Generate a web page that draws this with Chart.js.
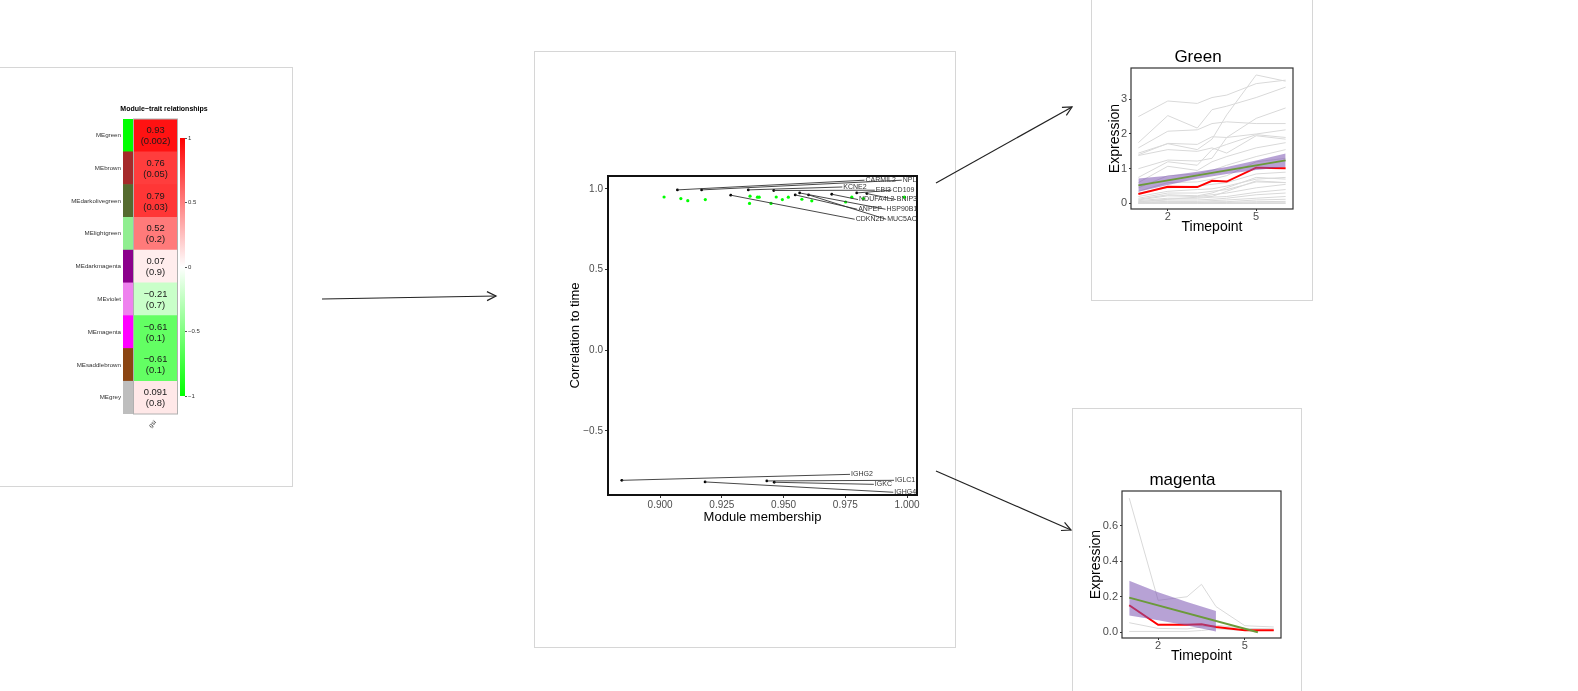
<!DOCTYPE html>
<html>
<head>
<meta charset="utf-8">
<script src="https://cdn.jsdelivr.net/npm/chart.js@4/dist/chart.umd.min.js"></script>
<style>
  html, body { margin: 0; padding: 0; background: #fff; }
  #page { position: relative; width: 1578px; height: 691px; overflow: hidden; }
  .panel { position: absolute; border: 1px solid #d6d6d6; background: #fff; }
  canvas { position: absolute; }
  svg { position: absolute; left: 0; top: 0; }
</style>
</head>
<body>
<div id="page">
  <div class="panel" style="left:-2px;top:67px;width:293px;height:418px"></div>
  <div class="panel" style="left:534px;top:51px;width:420px;height:595px"></div>
  <div class="panel" style="left:1091px;top:-2px;width:220px;height:301px"></div>
  <div class="panel" style="left:1072px;top:408px;width:228px;height:290px"></div>

  <canvas id="heat" width="328" height="350" style="left:0;top:90px"></canvas>
  <canvas id="bar" width="30" height="278" style="left:180px;top:128px"></canvas>
  <canvas id="mm" width="363" height="369" style="left:564px;top:160px"></canvas>
  <canvas id="green" width="196" height="196" style="left:1103px;top:40px"></canvas>
  <canvas id="magenta" width="203" height="201" style="left:1084px;top:464px"></canvas>

  <svg width="1578" height="691">
    <defs>
      <marker id="ah" markerWidth="12" markerHeight="12" refX="10" refY="6" orient="auto" markerUnits="userSpaceOnUse">
        <path d="M1,1.5 L10,6 L1,10.5" fill="none" stroke="#222" stroke-width="1.2"/>
      </marker>
    </defs>
    <g stroke="#222" stroke-width="1.2" fill="none">
      <line x1="322" y1="299" x2="496" y2="296" marker-end="url(#ah)"/>
      <line x1="936" y1="183" x2="1072" y2="107" marker-end="url(#ah)"/>
      <line x1="936" y1="471" x2="1071" y2="530" marker-end="url(#ah)"/>
    </g>
  </svg>
</div>
<script>
var FONT = '"Liberation Sans", Arial, sans-serif';

// ---- module-trait heatmap
var heatTitle = 'Module\u2212trait relationships';
var modules = ['MEgreen', 'MEbrown', 'MEdarkolivegreen', 'MElightgreen', 'MEdarkmagenta',
               'MEviolet', 'MEmagenta', 'MEsaddlebrown', 'MEgrey'];
var moduleColors = ['#00ff00', '#a52a2a', '#556b2f', '#90ee90', '#8b008b',
                    '#ee82ee', '#ff00ff', '#8b4513', '#bebebe'];
var corrValues = [0.93, 0.76, 0.79, 0.52, 0.07, -0.21, -0.61, -0.61, 0.091];
var pValues = ['0.002', '0.05', '0.03', '0.2', '0.9', '0.7', '0.1', '0.1', '0.8'];
var traitName = 'gsi';
var barTicks = [-1, -0.5, 0, 0.5, 1];

// ---- module membership vs correlation to time
var geneNames = ['CARMIL2', 'NPL', 'KCNE2', 'EBI3', 'CD109', 'NDUFA4L2', 'BNIP3', 'ANPEP',
                 'HSP90B1', 'CDKN2D', 'MUC5AC', 'IGHG2', 'IGLC1', 'IGKC', 'IGHG4'];
var geneMM  = [0.9070, 0.9168, 0.9357, 0.9460, 0.9796, 0.9695, 0.9837, 0.9547,
               0.9565, 0.9286, 0.9601, 0.8845, 0.9432, 0.9462, 0.9182];
var geneCor = [0.994, 0.994, 0.994, 0.990, 0.975, 0.967, 0.971, 0.963,
               0.975, 0.961, 0.963, -0.806, -0.810, -0.818, -0.816];
var labelMM  = [0.9893, 1.0010, 0.9789, 0.9904, 0.9985, 0.9877, 0.9999, 0.9850,
                0.9979, 0.9850, 0.9979, 0.9817, 0.9992, 0.9904, 0.9992];
var labelCor = [1.054, 1.054, 1.012, 0.992, 0.992, 0.934, 0.934, 0.874,
                0.874, 0.812, 0.812, -0.769, -0.806, -0.831, -0.880];
var otherMM  = [0.9016, 0.9084, 0.9112, 0.9183, 0.9364, 0.9362, 0.9394, 0.9401, 0.9449,
                0.9470, 0.9495, 0.9519, 0.9574, 0.9614, 0.9751, 0.9776, 0.9823, 0.9989];
var otherCor = [0.950, 0.940, 0.927, 0.934, 0.955, 0.910, 0.949, 0.949, 0.910,
                0.950, 0.934, 0.949, 0.936, 0.926, 0.919, 0.949, 0.940, 0.949];

// ---- expression over time
var timepoints = [1, 2, 3, 3.5, 4, 5, 6];
var timeTicks = [2, 5];
var greenGrey = [
  [2.50, 2.95, 2.88, 3.05, 3.12, 3.45, 3.55],
  [1.75, 2.53, 2.17, 2.70, 2.80, 3.05, 3.35],
  [1.45, 1.72, 1.55, 1.85, 2.55, 3.70, 3.52],
  [1.60, 2.08, 2.12, 2.30, 2.35, 2.30, 2.30],
  [1.40, 1.73, 1.70, 1.92, 1.90, 2.00, 2.12],
  [1.00, 1.25, 1.22, 1.30, 1.90, 2.45, 2.75],
  [1.38, 1.55, 1.50, 1.60, 1.45, 1.95, 1.85],
  [0.75, 1.20, 1.10, 1.55, 1.70, 1.98, 1.90],
  [0.60, 1.07, 0.95, 1.20, 1.35, 1.60, 1.75],
  [0.45, 0.80, 0.85, 0.95, 1.10, 1.35, 1.55],
  [0.35, 0.60, 0.62, 0.70, 0.80, 1.20, 1.30],
  [0.30, 0.45, 0.50, 0.55, 0.60, 0.85, 0.90],
  [0.20, 0.35, 0.40, 0.42, 0.50, 0.70, 0.75],
  [0.15, 0.30, 0.30, 0.35, 0.40, 0.62, 0.60],
  [0.10, 0.22, 0.20, 0.25, 0.30, 0.45, 0.55],
  [0.08, 0.15, 0.15, 0.18, 0.20, 0.32, 0.40],
  [0.05, 0.10, 0.10, 0.12, 0.15, 0.25, 0.30],
  [0.03, 0.06, 0.06, 0.08, 0.10, 0.15, 0.20],
  [0.02, 0.04, 0.03, 0.05, 0.05, 0.10, 0.12],
  [0.01, 0.02, 0.02, 0.02, 0.03, 0.05, 0.06],
  [0.00, 0.01, 0.01, 0.01, 0.01, 0.02, 0.02],
  [0.05, 0.12, 0.18, 0.20, 0.35, 0.65, 0.60],
  [0.12, 0.25, 0.22, 0.30, 0.45, 0.75, 0.70],
  [0.00, 0.00, 0.00, 0.00, 0.00, 0.00, 0.00]
];
var greenRed = [0.27, 0.48, 0.47, 0.65, 0.63, 1.03, 1.01];
var greenBandX = [1, 2, 3, 4, 5, 6];
var greenBandLo = [0.34, 0.53, 0.71, 0.85, 0.96, 1.05];
var greenBandHi = [0.72, 0.80, 0.91, 1.05, 1.24, 1.44];
var greenFitX = [1, 6];
var greenFitY = [0.52, 1.24];

var magentaGrey = [
  [0.755, 0.18, 0.20, 0.27, 0.145, 0.037, 0.03],
  [0.054, 0.022, 0.019, 0.03, 0.04, 0.022, 0.02],
  [0.005, 0.005, 0.005, 0.01, 0.02, 0.01, 0.01]
];
var magentaRed = [0.152, 0.042, 0.043, 0.045, 0.03, 0.012, 0.012];
var magentaBandX = [1, 2, 3, 4];
var magentaBandLo = [0.095, 0.068, 0.038, 0.005];
var magentaBandHi = [0.29, 0.225, 0.17, 0.12];
var magentaFitX = [1, 5.45];
var magentaFitY = [0.195, 0.0];

function fmtNum(v, d) {
  var s = d === undefined ? String(v) : v.toFixed(d);
  return s.replace('-', '\u2212');
}
function heatColor(v) {
  var t = Math.round(255 * (1 - Math.abs(v)));
  return v >= 0 ? 'rgb(255,' + t + ',' + t + ')' : 'rgb(' + t + ',255,' + t + ')';
}
function pts(xs, ys) {
  return xs.map(function(x, i) { return {x: x, y: ys[i]}; });
}

var framePlugin = {
  id: 'frame',
  afterDatasetsDraw: function(chart, args, opts) {
    var a = chart.chartArea, c = chart.ctx;
    c.save();
    c.strokeStyle = opts.color || '#000';
    c.lineWidth = opts.width || 1;
    c.strokeRect(a.left, a.top, a.right - a.left, a.bottom - a.top);
    c.restore();
  }
};

// ---------- heatmap
var heatPlugin = {
  id: 'heatText',
  afterDatasetsDraw: function(chart) {
    var ctx = chart.ctx, a = chart.chartArea;
    var meta = chart.getDatasetMeta(1);
    var el0 = meta.data[0];
    var left = Math.min(el0.x, el0.base), right = Math.max(el0.x, el0.base);
    ctx.save();
    ctx.strokeStyle = '#b0b0b0';
    ctx.lineWidth = 1;
    ctx.strokeRect(left - 0.5, a.top, right - left + 1, a.bottom - a.top);
    ctx.fillStyle = '#1a1a1a';
    ctx.textAlign = 'center';
    ctx.textBaseline = 'middle';
    ctx.font = '9.4px ' + FONT;
    meta.data.forEach(function(el, i) {
      var cx = (el.x + el.base) / 2;
      ctx.fillText(fmtNum(corrValues[i]), cx, el.y - 5);
      ctx.fillText('(' + pValues[i] + ')', cx, el.y + 6);
    });
    ctx.fillStyle = '#000';
    ctx.font = 'bold 7px ' + FONT;
    ctx.fillText(heatTitle, a.right - 13, a.top - 10);
    ctx.translate((left + right) / 2 - 3, a.bottom + 10);
    ctx.rotate(-Math.PI / 4);
    ctx.font = '6px ' + FONT;
    ctx.fillStyle = '#333';
    ctx.fillText(traitName, 0, 0);
    ctx.restore();
  }
};

new Chart(document.getElementById('heat'), {
  type: 'bar',
  data: {
    labels: modules,
    datasets: [
      { data: modules.map(function() { return [-0.256, -0.023]; }),
        backgroundColor: moduleColors, grouped: false,
        barPercentage: 1, categoryPercentage: 1, borderWidth: 0 },
      { data: corrValues.map(function() { return [0, 1]; }),
        backgroundColor: corrValues.map(heatColor), grouped: false,
        barPercentage: 1, categoryPercentage: 1, borderWidth: 0 }
    ]
  },
  options: {
    indexAxis: 'y',
    responsive: false,
    animation: false,
    layout: { padding: { top: 29, right: 151, bottom: 26, left: 0 } },
    plugins: { legend: { display: false }, tooltip: { enabled: false } },
    scales: {
      x: { type: 'linear', display: false, min: -0.256, max: 1 },
      y: {
        grid: { display: false, drawTicks: false, tickLength: 0 }, border: { display: false },
        ticks: { color: '#333', font: { size: 6.2, family: FONT }, padding: 2 },
        afterFit: function(s) { s.width = 123; }
      }
    }
  },
  plugins: [heatPlugin]
});

// ---------- colour key
new Chart(document.getElementById('bar'), {
  type: 'bar',
  data: {
    labels: [''],
    datasets: [{
      data: [[-1, 1]], barPercentage: 1, categoryPercentage: 1, borderWidth: 0,
      backgroundColor: function(c) {
        var a = c.chart.chartArea;
        if (!a) return null;
        var g = c.chart.ctx.createLinearGradient(0, a.top, 0, a.bottom);
        g.addColorStop(0, 'rgb(255,0,0)');
        g.addColorStop(0.5, 'rgb(255,255,255)');
        g.addColorStop(1, 'rgb(0,255,0)');
        return g;
      }
    }]
  },
  options: {
    responsive: false,
    animation: false,
    layout: { padding: { top: 10, bottom: 10, left: 0, right: 0 } },
    plugins: { legend: { display: false }, tooltip: { enabled: false } },
    scales: {
      x: { display: false },
      y: {
        position: 'right', min: -1, max: 1,
        afterBuildTicks: function(s) { s.ticks = barTicks.map(function(v) { return {value: v}; }); },
        grid: { drawOnChartArea: false, tickLength: 2, color: '#555' },
        border: { display: false },
        ticks: { color: '#333', padding: 1, font: { size: 6, family: FONT },
                 callback: function(v) { return fmtNum(v); } },
        afterFit: function(s) { s.width = 25; }
      }
    }
  }
});

// ---------- module membership scatter
var labelPlugin = {
  id: 'geneLabels',
  afterDatasetsDraw: function(chart) {
    var ctx = chart.ctx, xs = chart.scales.x, ys = chart.scales.y;
    ctx.save();
    ctx.font = '7px ' + FONT;
    ctx.textBaseline = 'middle';
    ctx.textAlign = 'center';
    geneNames.forEach(function(name, i) {
      var px = xs.getPixelForValue(geneMM[i]), py = ys.getPixelForValue(geneCor[i]);
      var lx = xs.getPixelForValue(labelMM[i]), ly = ys.getPixelForValue(labelCor[i]);
      var w = ctx.measureText(name).width;
      ctx.strokeStyle = '#333';
      ctx.lineWidth = 0.9;
      ctx.beginPath();
      ctx.moveTo(px, py);
      ctx.lineTo(lx - w / 2 - 1, ly);
      ctx.stroke();
      ctx.fillStyle = '#333';
      ctx.fillText(name, lx, ly);
    });
    ctx.restore();
  }
};

new Chart(document.getElementById('mm'), {
  type: 'scatter',
  data: {
    datasets: [
      { data: pts(otherMM, otherCor), backgroundColor: '#00ff00', pointRadius: 1.6, pointBorderWidth: 0 },
      { data: pts(geneMM, geneCor), backgroundColor: '#000', pointRadius: 1.4, pointBorderWidth: 0 }
    ]
  },
  options: {
    responsive: false,
    animation: false,
    layout: { padding: { top: 16, right: 10, bottom: 0, left: 0 } },
    plugins: { legend: { display: false }, tooltip: { enabled: false }, frame: { color: '#111', width: 2 } },
    scales: {
      x: {
        type: 'linear', min: 0.8789, max: 1.004,
        grid: { drawOnChartArea: false, tickLength: 3, color: '#333' },
        border: { display: false },
        ticks: { stepSize: 0.025, includeBounds: false, padding: 1, color: '#4d4d4d',
                 font: { size: 10, family: FONT },
                 callback: function(v) { return fmtNum(v, 3); } },
        title: { display: true, text: 'Module membership', color: '#000',
                 font: { size: 13, family: FONT }, padding: { top: 0, bottom: 4 } },
        afterFit: function(s) { s.height = 34; }
      },
      y: {
        type: 'linear', min: -0.897, max: 1.08,
        grid: { drawOnChartArea: false, tickLength: 3, color: '#333' },
        border: { display: false },
        ticks: { stepSize: 0.5, includeBounds: false, padding: 2, color: '#4d4d4d',
                 font: { size: 10, family: FONT },
                 callback: function(v) { return fmtNum(v, 1); } },
        title: { display: true, text: 'Correlation to time', color: '#000',
                 font: { size: 13, family: FONT }, padding: { top: 4, bottom: 0 } },
        afterFit: function(s) { s.width = 44; }
      }
    }
  },
  plugins: [framePlugin, labelPlugin]
});

// ---------- expression panels
function exprChart(id, cfg) {
  var sets = [];
  cfg.grey.forEach(function(g) {
    sets.push({ data: pts(timepoints, g), borderColor: '#d9d9d9', borderWidth: 1, pointRadius: 0, order: 4 });
  });
  sets.push({ data: pts(timepoints, cfg.red), borderColor: '#ff0000', borderWidth: 2, pointRadius: 0, order: 3 });
  sets.push({ data: pts(cfg.bandX, cfg.bandLo), borderWidth: 0, pointRadius: 0, fill: false, order: 2 });
  sets.push({ data: pts(cfg.bandX, cfg.bandHi), borderWidth: 0, pointRadius: 0, fill: '-1',
              backgroundColor: 'rgba(124,86,178,0.55)', order: 2 });
  sets.push({ data: pts(cfg.fitX, cfg.fitY), borderColor: '#6b9a3a', borderWidth: 2, pointRadius: 0, order: 1 });

  return new Chart(document.getElementById(id), {
    type: 'line',
    data: { datasets: sets },
    options: {
      responsive: false,
      animation: false,
      layout: { padding: { top: 0, right: 6, bottom: 0, left: 0 } },
      plugins: {
        legend: { display: false }, tooltip: { enabled: false },
        title: { display: true, text: cfg.title, color: '#000',
                 font: { size: 17, family: FONT, lineHeight: 1, weight: 'normal' },
                 padding: { top: cfg.titleTop, bottom: cfg.titleBottom } },
        frame: { color: '#333', width: 1.2 }
      },
      scales: {
        x: {
          type: 'linear', min: 0.75, max: 6.25,
          afterBuildTicks: function(s) { s.ticks = timeTicks.map(function(v) { return {value: v}; }); },
          grid: { drawOnChartArea: false, tickLength: 2, color: '#333' },
          border: { display: false },
          ticks: { padding: 0, color: '#4d4d4d', font: { size: 11, family: FONT, lineHeight: 1 } },
          title: { display: true, text: 'Timepoint', color: '#000',
                   font: { size: 14, family: FONT }, padding: { top: 0, bottom: 0 } },
          afterFit: function(s) { s.height = 27; }
        },
        y: {
          type: 'linear', min: cfg.yMin, max: cfg.yMax,
          grid: { drawOnChartArea: false, tickLength: 2, color: '#333' },
          border: { display: false },
          ticks: { stepSize: cfg.yStep, includeBounds: false, padding: 2, color: '#4d4d4d',
                   font: { size: 11, family: FONT },
                   callback: function(v) { return fmtNum(v, cfg.yDigits); } },
          title: { display: true, text: 'Expression', color: '#000',
                   font: { size: 14, family: FONT }, padding: { top: 4, bottom: 0 } },
          afterFit: function(s) { s.width = cfg.yWidth; }
        }
      }
    },
    plugins: [framePlugin]
  });
}

exprChart('green', {
  title: 'Green', grey: greenGrey, red: greenRed,
  bandX: greenBandX, bandLo: greenBandLo, bandHi: greenBandHi,
  fitX: greenFitX, fitY: greenFitY,
  yMin: -0.16, yMax: 3.9, yStep: 1, yDigits: 0, yWidth: 28,
  titleTop: 8.5, titleBottom: 2.5
});

exprChart('magenta', {
  title: 'magenta', grey: magentaGrey, red: magentaRed,
  bandX: magentaBandX, bandLo: magentaBandLo, bandHi: magentaBandHi,
  fitX: magentaFitX, fitY: magentaFitY,
  yMin: -0.032, yMax: 0.795, yStep: 0.2, yDigits: 1, yWidth: 38,
  titleTop: 8.2, titleBottom: 1.8
});
</script>
</body>
</html>
